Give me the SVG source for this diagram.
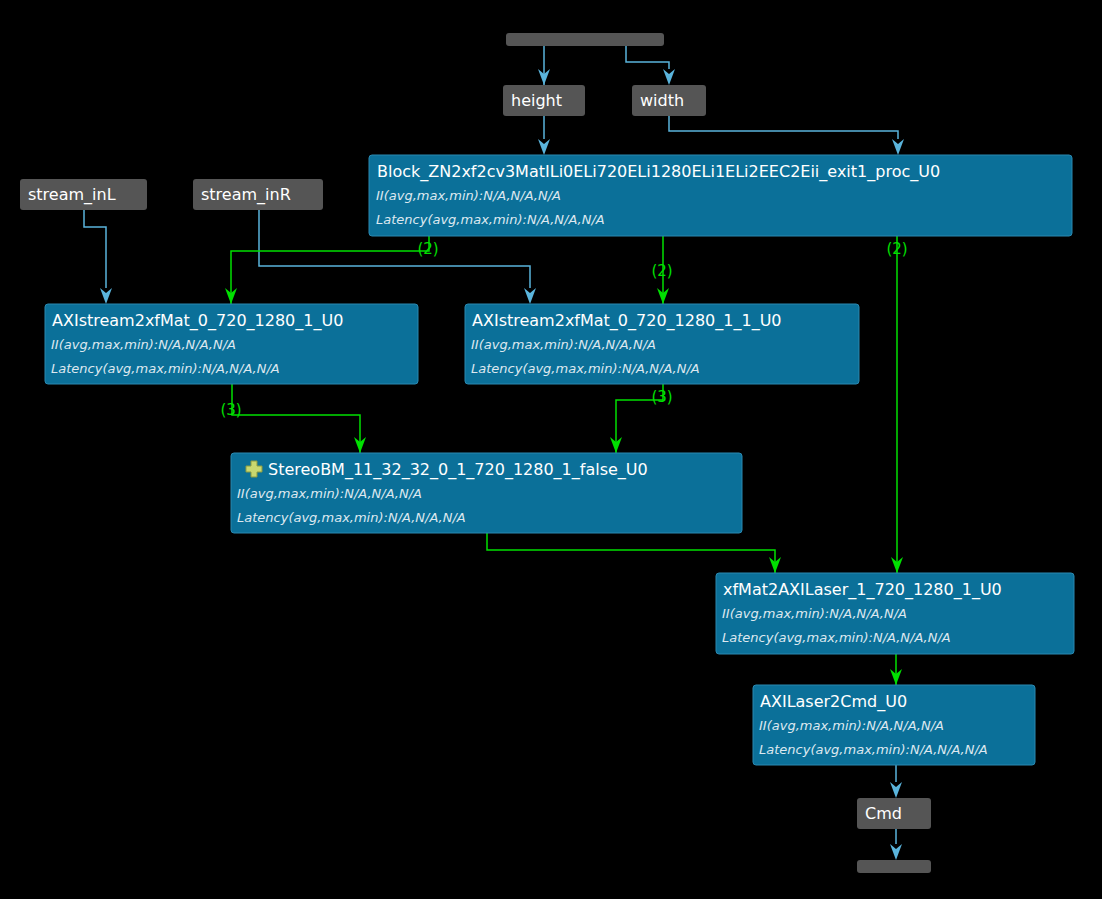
<svg xmlns="http://www.w3.org/2000/svg" width="1102" height="899" viewBox="0 0 1102 899">
<style>
.g{fill:#555;}
.n{fill:#0b7099;stroke:#2a88b0;stroke-width:1;}
.t{font-family:"DejaVu Sans",sans-serif;font-size:16px;fill:#fff;}
.s{font-family:"DejaVu Sans",sans-serif;font-size:13px;font-style:italic;fill:#dde8f0;}
.b{fill:none;stroke:#5ab4dc;stroke-width:1.5;marker-end:url(#ab);}
.e{fill:none;stroke:#00e000;stroke-width:1.5;marker-end:url(#ag);}
.l{font-family:"DejaVu Sans",sans-serif;font-size:15px;fill:#00e000;text-anchor:middle;}
</style>
<defs>
<marker id="ab" viewBox="0 0 12 16" refX="6" refY="16" markerWidth="12" markerHeight="16" markerUnits="userSpaceOnUse" orient="auto-start-reverse"><path d="M0,0 L6,16 L12,0 L6,5 Z" fill="#5ab4dc" transform="rotate(0)"/></marker>
<marker id="ag" viewBox="0 0 12 16" refX="6" refY="16" markerWidth="12" markerHeight="16" markerUnits="userSpaceOnUse"><path d="M0,0 L6,16 L12,0 L6,5 Z" fill="#00e000"/></marker>
</defs>
<rect width="1102" height="899" fill="#000"/>
<g id="connectors">
<path class="b" d="M544,46 V85" style="marker-end:none"/><path d="M538,69 L544,85 L550,69 L544,74 Z" fill="#5ab4dc"/>
<path class="b" d="M626,46 V62 H669 V69" style="marker-end:none"/><path d="M663,69 L669,85 L675,69 L669,74 Z" fill="#5ab4dc"/>
<path class="b" d="M544,116 V139" style="marker-end:none"/><path d="M538,139 L544,155 L550,139 L544,144 Z" fill="#5ab4dc"/>
<path class="b" d="M669,116 V131 H898 V139" style="marker-end:none"/><path d="M892,139 L898,155 L904,139 L898,144 Z" fill="#5ab4dc"/>
<path class="b" d="M84,210 V227 H106 V288" style="marker-end:none"/><path d="M100,288 L106,304 L112,288 L106,293 Z" fill="#5ab4dc"/>
<path class="b" d="M259,210 V266 H530 V288" style="marker-end:none"/><path d="M524,288 L530,304 L536,288 L530,293 Z" fill="#5ab4dc"/>
<path class="b" d="M896,765 V782" style="marker-end:none"/><path d="M890,782 L896,798 L902,782 L896,787 Z" fill="#5ab4dc"/>
<path class="b" d="M896,829 V844" style="marker-end:none"/><path d="M890,844 L896,860 L902,844 L896,849 Z" fill="#5ab4dc"/>
<path class="e" d="M429,236 V251 H231 V304"/>
<path class="e" d="M663,236 V304"/>
<path class="e" d="M897,236 V573"/>
<path class="e" d="M232,384 V415 H360 V453"/>
<path class="e" d="M663,384 V400 H616 V453"/>
<path class="e" d="M487,533 V550 H775 V573"/>
<path class="e" d="M896,654 V685"/>
<text class="l" x="428" y="254">(2)</text>
<text class="l" x="662" y="276">(2)</text>
<text class="l" x="897" y="254">(2)</text>
<text class="l" x="231" y="415">(3)</text>
<text class="l" x="662" y="402">(3)</text>
</g>
<g id="top"><rect class="g" x="506" y="33" width="158" height="13" rx="3"/></g>
<g id="height"><rect class="g" x="503" y="85" width="82" height="31" rx="3"/><text class="t" x="511" y="106">height</text></g>
<g id="width"><rect class="g" x="632" y="85" width="74" height="31" rx="3"/><text class="t" x="640" y="106">width</text></g>
<g id="block"><rect class="n" x="369" y="155" width="703" height="81" rx="3"/><text class="t" x="377" y="177">Block_ZN2xf2cv3MatILi0ELi720ELi1280ELi1ELi2EEC2Eii_exit1_proc_U0</text><text class="s" x="376" y="200">II(avg,max,min):N/A,N/A,N/A</text><text class="s" x="376" y="224">Latency(avg,max,min):N/A,N/A,N/A</text></g>
<g id="stream_inL"><rect class="g" x="20" y="179" width="127" height="31" rx="3"/><text class="t" x="28" y="200">stream_inL</text></g>
<g id="stream_inR"><rect class="g" x="193" y="179" width="130" height="31" rx="3"/><text class="t" x="201" y="200">stream_inR</text></g>
<g id="axi1"><rect class="n" x="45" y="304" width="373" height="80" rx="3"/><text class="t" x="52" y="326">AXIstream2xfMat_0_720_1280_1_U0</text><text class="s" x="51" y="349">II(avg,max,min):N/A,N/A,N/A</text><text class="s" x="51" y="373">Latency(avg,max,min):N/A,N/A,N/A</text></g>
<g id="axi2"><rect class="n" x="465" y="304" width="394" height="80" rx="3"/><text class="t" x="472" y="326">AXIstream2xfMat_0_720_1280_1_1_U0</text><text class="s" x="471" y="349">II(avg,max,min):N/A,N/A,N/A</text><text class="s" x="471" y="373">Latency(avg,max,min):N/A,N/A,N/A</text></g>
<g id="stereo"><rect class="n" x="231" y="453" width="511" height="80" rx="3"/><path d="M246,466 h5 v-5 h6 v5 h5 v6 h-5 v5 h-6 v-5 h-5 Z" fill="#c8d870" stroke="#8a9a40" stroke-width="1"/><text class="t" x="268" y="475">StereoBM_11_32_32_0_1_720_1280_1_false_U0</text><text class="s" x="237" y="498">II(avg,max,min):N/A,N/A,N/A</text><text class="s" x="237" y="522">Latency(avg,max,min):N/A,N/A,N/A</text></g>
<g id="xfmat"><rect class="n" x="716" y="573" width="358" height="81" rx="3"/><text class="t" x="723" y="595">xfMat2AXILaser_1_720_1280_1_U0</text><text class="s" x="722" y="618">II(avg,max,min):N/A,N/A,N/A</text><text class="s" x="722" y="642">Latency(avg,max,min):N/A,N/A,N/A</text></g>
<g id="laser"><rect class="n" x="753" y="685" width="282" height="80" rx="3"/><text class="t" x="760" y="707">AXILaser2Cmd_U0</text><text class="s" x="759" y="730">II(avg,max,min):N/A,N/A,N/A</text><text class="s" x="759" y="754">Latency(avg,max,min):N/A,N/A,N/A</text></g>
<g id="cmd"><rect class="g" x="857" y="798" width="74" height="31" rx="3"/><text class="t" x="865" y="819">Cmd</text></g>
<g id="bottom"><rect class="g" x="857" y="860" width="74" height="13" rx="3"/></g>
</svg>
